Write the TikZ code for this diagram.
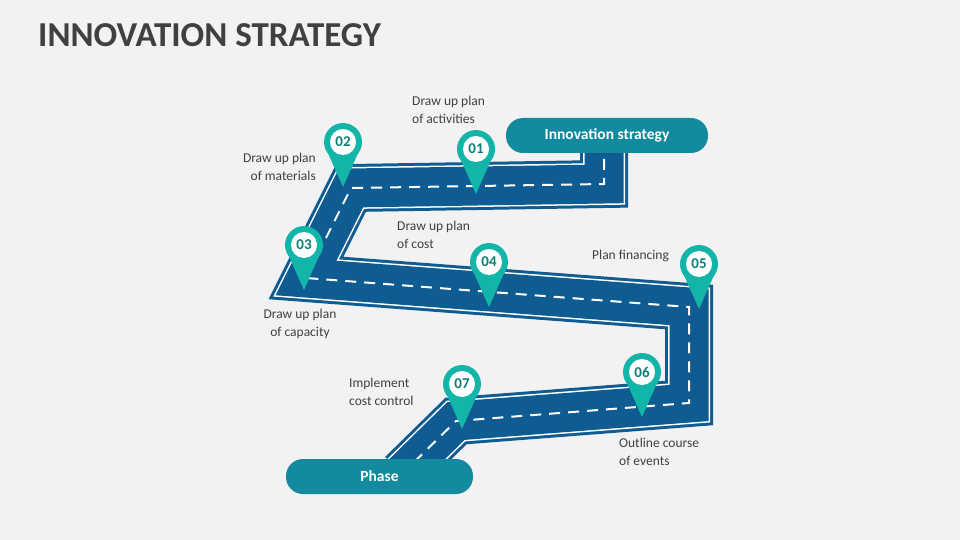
\documentclass[tikz,border=0pt]{standalone}
\usepackage{fontspec}
\setmainfont{Carlito}
\definecolor{bg}{HTML}{F2F2F2}
\definecolor{road}{HTML}{0F5C92}
\definecolor{pincol}{HTML}{14B5A9}
\definecolor{pill}{HTML}{138A9E}
\definecolor{txt}{HTML}{404040}
\begin{document}
\begin{tikzpicture}[x=1pt,y=-1pt,
  lbl/.style={text=txt,font=\fontsize{13.5}{18}\selectfont,inner sep=0pt},
  pillbox/.style={fill=pill,rounded corners=17pt,text=white,font=\bfseries\fontsize{15.5}{17}\selectfont,minimum height=35pt},
  num/.style={text=pincol!70!black,font=\bfseries\fontsize{15}{16}\selectfont,inner sep=0pt}]
\fill[bg] (0,0) rectangle (960,540);
\useasboundingbox (0,0) rectangle (960,540);
\node[anchor=west,text=txt,font=\bfseries\fontsize{35}{38}\selectfont,inner sep=0pt] (title) at (38,35) {INNOVATION STRATEGY};
% road path
\coordinate (r0) at (604,140);
\coordinate (r1) at (604,184);
\coordinate (r2) at (351,188);
\coordinate (r3) at (306,278);
\coordinate (r4) at (689,307);
\coordinate (r5) at (689,403);
\coordinate (r6) at (456,421);
\coordinate (r7) at (402,474);
\def\roadpath{(r0) -- (r1) -- (r2) -- (r3) -- (r4) -- (r5) -- (r6) -- (r7)}
\draw[road,line width=48pt,miter limit=10] \roadpath;
\draw[white,line width=42pt,miter limit=10] \roadpath;
\draw[road,line width=39pt,miter limit=10] \roadpath;
\draw[white,line width=2pt,dash pattern=on 11pt off 8pt] \roadpath;
% pills
\node[pillbox,minimum width=202pt] (top) at (607,135.5) {Innovation strategy};
\node[pillbox,minimum width=187pt] (phase) at (379.5,476.5) {Phase};
% pins
\newcommand{\mypin}[4]{%
  \fill[pincol] (#2-16,#3+9) -- (#2,#3+45) -- (#2+16,#3+9) -- cycle;
  \fill[pincol] (#2,#3) circle (19pt);
  \fill[white] (#2,#3) circle (13pt);
  \node[num] (#1) at (#2,#3) {#4};}
\mypin{p1}{476}{149}{01}
\mypin{p2}{343}{142}{02}
\mypin{p3}{304}{245}{03}
\mypin{p4}{489}{262}{04}
\mypin{p5}{699}{264}{05}
\mypin{p6}{642}{372}{06}
\mypin{p7}{462}{384}{07}
% labels
\node[lbl,align=left,anchor=north west] (l1) at (412,96) {Draw up plan\\of activities};
\node[lbl,align=right,anchor=north east] (l2) at (316,153) {Draw up plan\\of materials};
\node[lbl,align=left,anchor=north west] (l4) at (397,221) {Draw up plan\\of cost};
\node[lbl,anchor=north west] (l5) at (592,250) {Plan financing};
\node[lbl,align=center,anchor=north] (l3) at (300,309) {Draw up plan\\of capacity};
\node[lbl,align=left,anchor=north west] (l7) at (349,378) {Implement\\cost control};
\node[lbl,align=left,anchor=north west] (l6) at (619,438) {Outline course\\of events};
\end{tikzpicture}
\end{document}
